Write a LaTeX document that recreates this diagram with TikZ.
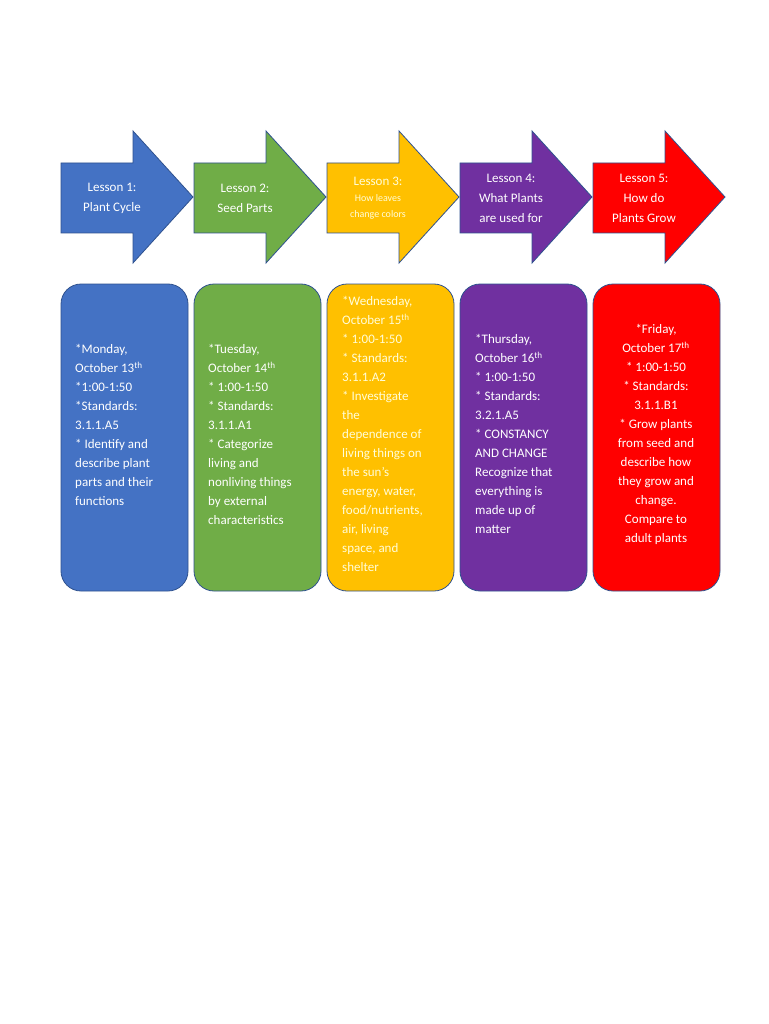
\documentclass[tikz,border=0pt]{standalone}
\usepackage{fontspec}
\setmainfont{Carlito}
\definecolor{cblue}{HTML}{4472C4}
\definecolor{cgreen}{HTML}{70AD47}
\definecolor{cyellow}{HTML}{FFC000}
\definecolor{cpurple}{HTML}{7030A0}
\definecolor{cred}{HTML}{FF0000}
\definecolor{edge}{HTML}{2F528F}
\begin{document}
\begin{tikzpicture}[x=1pt,y=-1pt,
  arr/.style={draw=edge,line width=0.8pt,line join=miter},
  card/.style={draw=edge,line width=0.8pt,rounded corners=20pt},
  atxt/.style={text=white,align=center,font=\fontsize{13}{20}\selectfont,inner sep=0pt},
  btxt/.style={text=white,anchor=north west,align=left,font=\fontsize{13}{19}\selectfont,inner sep=0pt}]
\useasboundingbox[fill=white] (0,0) rectangle (768,1024);
\foreach \i/\c in {0/cblue,1/cgreen,2/cyellow,3/cpurple,4/cred}{
  \pgfmathsetmacro{\xo}{61+133*\i}
  \draw[arr,fill=\c] (\xo,163) -- (\xo+72,163) -- (\xo+72,131) -- (\xo+132,197) -- (\xo+72,263) -- (\xo+72,233) -- (\xo,233) -- cycle;
  \draw[card,fill=\c] (\xo,284) rectangle (\xo+127,591);
}
\node[atxt] (a1) at (112,198) {Lesson 1:\\Plant Cycle};
\node[atxt] (a2) at (245,198) {Lesson 2:\\Seed Parts};
\node[atxt,text=white!85!yellow] (a3) at (378,198) {Lesson 3:\\[-4pt]{\fontsize{10}{14}\selectfont How leaves}\\[-4pt]{\fontsize{10}{14}\selectfont change colors}};
\node[atxt] (a4) at (511,198) {Lesson 4:\\What Plants\\are used for};
\node[atxt] (a5) at (644,198) {Lesson 5:\\How do\\Plants Grow};
\node[btxt] (b1) at (75,344) {*Monday,\\October 13\textsuperscript{th}\\*1:00-1:50\\*Standards:\\3.1.1.A5\\* Identify and\\describe plant\\parts and their\\functions};
\node[btxt] (b2) at (208,344) {*Tuesday,\\October 14\textsuperscript{th}\\* 1:00-1:50\\* Standards:\\3.1.1.A1\\* Categorize\\living and\\nonliving things\\by external\\characteristics};
\node[btxt,text=white!85!yellow] (b3) at (342,296) {*Wednesday,\\October 15\textsuperscript{th}\\* 1:00-1:50\\* Standards:\\3.1.1.A2\\* Investigate\\the\\dependence of\\living things on\\the sun’s\\energy, water,\\food/nutrients,\\air, living\\space, and\\shelter};
\node[btxt] (b4) at (475,334) {*Thursday,\\October 16\textsuperscript{th}\\* 1:00-1:50\\* Standards:\\3.2.1.A5\\* CONSTANCY\\AND CHANGE\\Recognize that\\everything is\\made up of\\matter};
\node[btxt,anchor=north,align=center] (b5) at (656,324) {*Friday,\\October 17\textsuperscript{th}\\* 1:00-1:50\\* Standards:\\3.1.1.B1\\* Grow plants\\from seed and\\describe how\\they grow and\\change.\\Compare to\\adult plants};
\end{tikzpicture}
\end{document}
